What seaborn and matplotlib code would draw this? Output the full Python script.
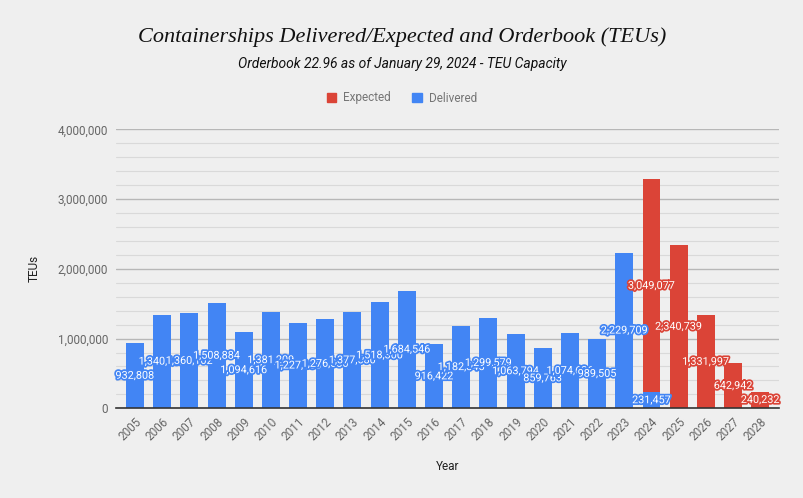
import matplotlib
matplotlib.use("Agg")
import matplotlib.pyplot as plt
import matplotlib.patheffects as pe
import matplotlib.ticker as mticker
from matplotlib.patches import Patch
import seaborn as sns
import pandas as pd
import numpy as np

years = [str(y) for y in range(2005, 2029)]
delivered = [932808, 1340162, 1360102, 1508884, 1094616, 1381209, 1227150, 1276030,
             1377580, 1518300, 1684546, 916422, 1182345, 1299579, 1063794, 859763,
             1074626, 989505, 2229709, 231457, 0, 0, 0, 0]
expected = [0] * 19 + [3049077, 2340739, 1331997, 642942, 240232]

BLUE = "#4285f4"
RED = "#db4437"
BG = "#efefef"

sns.set_theme(style="white")
plt.rcParams["font.family"] = ["Roboto", "DejaVu Sans"]

df = pd.DataFrame({"Year": years, "Delivered": delivered, "Expected": expected})
df["Total"] = df["Delivered"] + df["Expected"]

fig = plt.figure(figsize=(8.04, 4.98), dpi=100, facecolor=BG)
ax = fig.add_axes([116.5 / 804, 1 - 408.3 / 498, (779 - 116.5) / 804, (408.3 - 129.3) / 498])
ax.set_facecolor(BG)

W = 0.66
sns.barplot(data=df, x="Year", y="Total", order=years, color=RED, width=W,
            saturation=1, linewidth=0, edgecolor="none", ax=ax, zorder=3)
sns.barplot(data=df, x="Year", y="Delivered", order=years, color=BLUE, width=W,
            saturation=1, linewidth=0, edgecolor="none", ax=ax, zorder=4)

ax.set_ylim(0, 4000000)
ax.set_xlim(-0.68, 23.69)
ax.yaxis.set_major_locator(mticker.MultipleLocator(1000000))
ax.yaxis.set_minor_locator(mticker.MultipleLocator(200000))
ax.yaxis.set_major_formatter(mticker.FuncFormatter(lambda v, p: f"{int(v):,}"))
ax.grid(axis="y", which="major", color="#b7b7b7", linewidth=1.0, zorder=0)
ax.grid(axis="y", which="minor", color="#d9d9d9", linewidth=0.8, zorder=0)
ax.grid(axis="x", visible=False)
for s in ["top", "right", "left"]:
    ax.spines[s].set_visible(False)
ax.spines["bottom"].set_color("#333333")
ax.spines["bottom"].set_linewidth(1.2)
ax.spines["bottom"].set_zorder(6)
ax.tick_params(axis="both", which="both", length=0)
ax.tick_params(axis="y", labelsize=8.5, labelcolor="#666666", pad=6)
ax.tick_params(axis="x", labelsize=8.5, labelcolor="#666666", pad=5)
for lab in ax.get_xticklabels():
    lab.set_rotation(45)
    lab.set_ha("right")
    lab.set_rotation_mode("anchor")

ax.set_xlabel("Year", fontsize=8.5, color="#222222", labelpad=12)
ax.set_ylabel("TEUs", fontsize=8.5, color="#222222", labelpad=12)

# data labels centred in segments
for i, (d, e) in enumerate(zip(delivered, expected)):
    if d > 0:
        ax.text(i, d / 2, f"{d:,}", ha="center", va="center", fontsize=7.8,
                color="white", zorder=10,
                path_effects=[pe.withStroke(linewidth=2.5, foreground=BLUE)])
    if e > 0:
        ax.text(i, d + e / 2, f"{e:,}", ha="center", va="center", fontsize=7.8,
                color="white", zorder=10,
                path_effects=[pe.withStroke(linewidth=2.5, foreground=RED)])

fig.text(0.5, 1 - 37 / 498, "Containerships Delivered/Expected and Orderbook (TEUs)",
         ha="center", va="center", fontsize=16, style="italic",
         family=["Liberation Serif", "DejaVu Serif"], color="#111111")
fig.text(0.5, 1 - 64 / 498, "Orderbook 22.96 as of January 29, 2024 - TEU Capacity",
         ha="center", va="center", fontsize=10, style="italic", color="#111111")

handles = [Patch(facecolor=RED, edgecolor=RED), Patch(facecolor=BLUE, edgecolor=BLUE)]
fig.legend(handles, ["Expected", "Delivered"], loc="center",
           bbox_to_anchor=(0.5, 1 - 98 / 498), ncol=2, frameon=False,
           fontsize=8.5, handlelength=0.8, handleheight=0.8, columnspacing=1.8,
           handletextpad=0.6, labelcolor="#757575")

fig.savefig("out.png", dpi=100, facecolor=BG)
